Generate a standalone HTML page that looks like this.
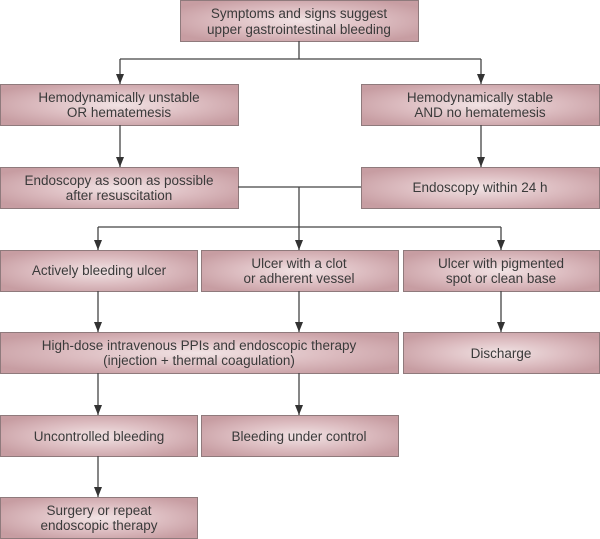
<!DOCTYPE html>
<html><head><style>body{margin:0;background:#fff}svg{display:block}text{font-family:"Liberation Sans",sans-serif;font-size:13.5px;fill:#3a3a3a;text-anchor:middle}</style></head>
<body>
<svg width="600" height="539" viewBox="0 0 600 539" xmlns="http://www.w3.org/2000/svg">
<defs>
<radialGradient id="g" cx="50%" cy="50%" r="60%">
<stop offset="0" stop-color="#f1e3e4"/><stop offset="0.55" stop-color="#dcbcc0"/><stop offset="1" stop-color="#c79da2"/>
</radialGradient>
<marker id="a" markerWidth="8" markerHeight="10" refX="4" refY="10" orient="auto" markerUnits="userSpaceOnUse" viewBox="0 0 8 10"><path d="M0,0 L8,0 L4,10z" fill="#333" transform="rotate(-90 4 5) translate(0 0)"/></marker>
<marker id="d" markerWidth="8" markerHeight="10" refX="4" refY="10" markerUnits="userSpaceOnUse" viewBox="0 0 8 10"><path d="M0,0 L8,0 L4,10z" fill="#333"/></marker>
</defs>
<g fill="url(#g)" stroke="#8f7a7c" stroke-width="1">
<rect x="180.5" y="0.5" width="238" height="41"/>
<rect x="0.5" y="84.5" width="238" height="41"/>
<rect x="361.5" y="84.5" width="238" height="41"/>
<rect x="0.5" y="167.5" width="238" height="41"/>
<rect x="361.5" y="167.5" width="238" height="41"/>
<rect x="0.5" y="250.5" width="197" height="41"/>
<rect x="201.5" y="250.5" width="197" height="41"/>
<rect x="403.5" y="250.5" width="196" height="41"/>
<rect x="0.5" y="332.5" width="398" height="41"/>
<rect x="403.5" y="332.5" width="196" height="41"/>
<rect x="0.5" y="415.5" width="197" height="41"/>
<rect x="201.5" y="415.5" width="197" height="41"/>
<rect x="0.5" y="497.5" width="197" height="41"/>
</g>
<g stroke="#444" stroke-width="1.3" fill="none">
<path d="M299 41V59M120 59H481"/>
<path d="M120 59V84" marker-end="url(#d)"/>
<path d="M481 59V84" marker-end="url(#d)"/>
<path d="M120 125V167" marker-end="url(#d)"/>
<path d="M481 125V167" marker-end="url(#d)"/>
<path d="M238 187H361M299 187V227M98 227H501"/>
<path d="M98 227V250" marker-end="url(#d)"/>
<path d="M299 227V250" marker-end="url(#d)"/>
<path d="M501 227V250" marker-end="url(#d)"/>
<path d="M98 291V332" marker-end="url(#d)"/>
<path d="M299 291V332" marker-end="url(#d)"/>
<path d="M501 291V332" marker-end="url(#d)"/>
<path d="M98 373V415" marker-end="url(#d)"/>
<path d="M299 373V415" marker-end="url(#d)"/>
<path d="M98 456V497" marker-end="url(#d)"/>
</g>
<text x="299" y="18">Symptoms and signs suggest</text><text x="299" y="34">upper gastrointestinal bleeding</text>
<text x="119" y="102">Hemodynamically unstable</text><text x="119" y="117">OR hematemesis</text>
<text x="480" y="102">Hemodynamically stable</text><text x="480" y="117">AND no hematemesis</text>
<text x="119" y="185">Endoscopy as soon as possible</text><text x="119" y="200">after resuscitation</text>
<text x="480" y="192">Endoscopy within 24 h</text>
<text x="99" y="275">Actively bleeding ulcer</text>
<text x="299" y="268">Ulcer with a clot</text><text x="299" y="283">or adherent vessel</text>
<text x="501" y="268">Ulcer with pigmented</text><text x="501" y="283">spot or clean base</text>
<text x="199" y="350">High-dose intravenous PPIs and endoscopic therapy</text><text x="199" y="365">(injection + thermal coagulation)</text>
<text x="501" y="358">Discharge</text>
<text x="99" y="441">Uncontrolled bleeding</text>
<text x="299" y="441">Bleeding under control</text>
<text x="99" y="515">Surgery or repeat</text><text x="99" y="530">endoscopic therapy</text>
</svg>
</body></html>
